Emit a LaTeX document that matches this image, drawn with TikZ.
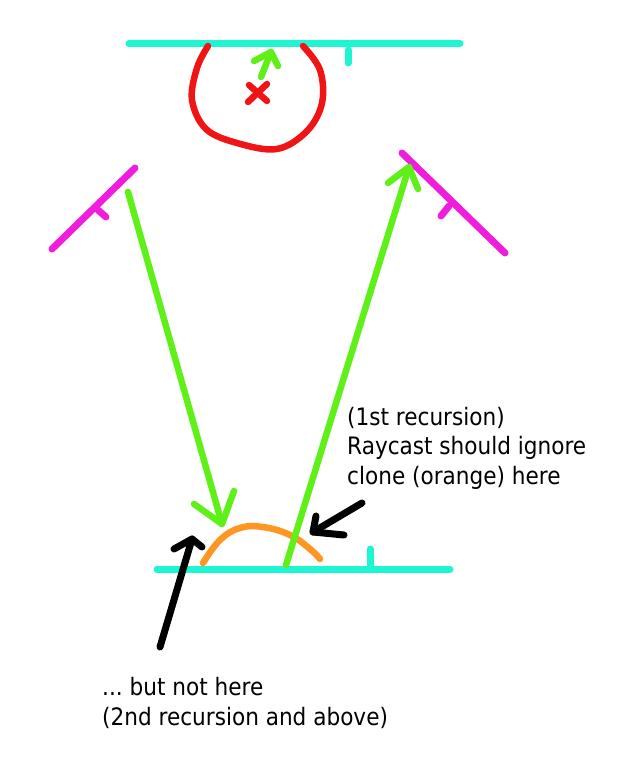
\documentclass[tikz,border=0pt]{standalone}
\usepackage{fontspec}
\setmainfont{DejaVu Sans}[FakeStretch=0.9]
\frenchspacing
\definecolor{cyanline}{RGB}{30,245,210}
\definecolor{redline}{RGB}{240,20,20}
\definecolor{greenline}{RGB}{95,240,25}
\definecolor{magline}{RGB}{240,30,220}
\definecolor{orangeline}{RGB}{255,150,35}
\tikzset{
  stroke/.style={line width=#1, line cap=round, line join=round},
  wall/.style={stroke=7pt, draw=cyanline},
  mirror/.style={stroke=7pt, draw=magline},
  ray/.style={stroke=6.5pt, draw=greenline},
  pointer/.style={stroke=7pt, draw=black},
  portal/.style={stroke=6.5pt, draw=redline},
  clone/.style={stroke=6.5pt, draw=orangeline},
  label/.style={inner sep=0pt, anchor=base west, align=left,
    font=\fontsize{24}{29.5}\selectfont}
}
\begin{document}
\begin{tikzpicture}[x=1pt,y=-1pt]
\useasboundingbox (0,0) rectangle (618,765);
% top wall
\coordinate (tw1) at (129,44);
\coordinate (tw2) at (460,44);
\draw[wall] (tw1) -- (tw2);
\coordinate (tt1) at (348,50);
\coordinate (tt2) at (348,63);
\draw[wall] (tt1) -- (tt2);
% red loop
\draw[portal] plot[smooth, tension=0.6] coordinates {(208,46) (197,68) (192,100) (206,129) (237,143) (277,149) (307,131) (322,103) (320,70) (303,46)};
% red cross
\coordinate (x1) at (249,85);
\coordinate (x2) at (267,101);
\coordinate (x3) at (267,84);
\coordinate (x4) at (248,102);
\draw[portal] (x1) -- (x2);
\draw[portal] (x3) -- (x4);
% small green arrow
\coordinate (sa0) at (261,77);
\coordinate (sa1) at (271,52);
\coordinate (sab1) at (254,61);
\coordinate (sab2) at (278,66);
\draw[ray] (sa0) -- (sa1);
\draw[ray] (sab1) -- (sa1) -- (sab2);
% left mirror
\coordinate (lm1) at (135,168);
\coordinate (lm2) at (52,249);
\draw[mirror] (lm1) -- (lm2);
\coordinate (lmt1) at (98,210);
\coordinate (lmt2) at (106,217);
\draw[mirror] (lmt1) -- (lmt2);
% right mirror
\coordinate (rm1) at (402,153);
\coordinate (rm2) at (505,253);
\draw[mirror] (rm1) -- (rm2);
\coordinate (rmt1) at (449,206);
\coordinate (rmt2) at (441,216);
\draw[mirror] (rmt1) -- (rmt2);
% left long green arrow
\coordinate (la0) at (128,192);
\coordinate (la1) at (222,524);
\coordinate (lab1) at (194,504);
\coordinate (lab2) at (234,491);
\draw[ray] (la0) -- (la1);
\draw[ray] (lab1) -- (la1) -- (lab2);
% bottom wall
\coordinate (bw1) at (157,569);
\coordinate (bw2) at (450,569);
\draw[wall] (bw1) -- (bw2);
\coordinate (bt1) at (370,549);
\coordinate (bt2) at (370,569);
\draw[wall] (bt1) -- (bt2);
% orange clone
\draw[clone] plot[smooth, tension=0.7] coordinates {(203,563) (220,540) (240,528) (263,527) (290,535) (310,549) (320,559)};
% right long green arrow
\coordinate (ra0) at (286,565);
\coordinate (ra1) at (409,167);
\coordinate (rab1) at (388,183);
\coordinate (rab2) at (418,189);
\draw[ray] (ra0) -- (ra1);
\draw[ray] (rab1) -- (ra1) -- (rab2);
% black pointer right
\coordinate (bp0) at (362,503);
\coordinate (bp1) at (313,532);
\coordinate (bpb1) at (316,516);
\coordinate (bpb2) at (344,535);
\draw[pointer] (bp0) -- (bp1);
\draw[pointer] (bpb1) -- (bp1) -- (bpb2);
% black pointer left
\coordinate (lp0) at (160,647);
\coordinate (lp1) at (192,539);
\coordinate (lpb1) at (174,549);
\coordinate (lpb2) at (202,547);
\draw[pointer] (lp0) -- (lp1);
\draw[pointer] (lpb1) -- (lp1) -- (lpb2);
% texts (base anchor = baseline of last line)
\node[label] (t1) at (347,484) {(1st recursion)\\Raycast should ignore\\clone (orange) here};
\node[label] (t2) at (102,725) {... but not here\\(2nd recursion and above)};
\end{tikzpicture}
\end{document}
